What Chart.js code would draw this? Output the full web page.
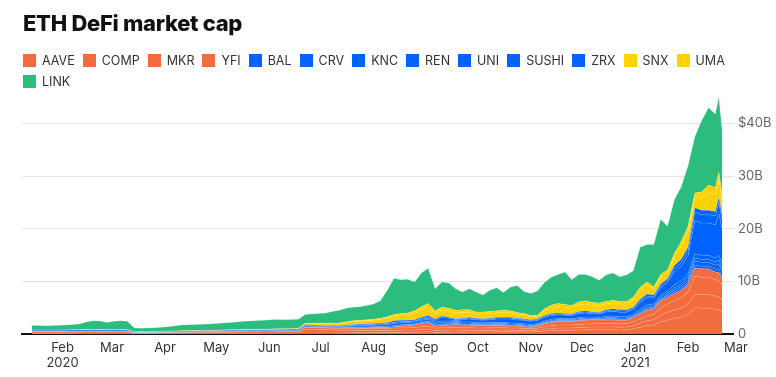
<!DOCTYPE html>
<html>
<head>
<meta charset="utf-8">
<script src="https://cdn.jsdelivr.net/npm/chart.js@4"></script>
<style>
  html, body { margin: 0; padding: 0; background: #fff; }
  body { width: 776px; height: 377px; position: relative; overflow: hidden; font-family: Inter, "Noto Sans", sans-serif; }
  #title { position: absolute; left: 23px; top: 10px; font-size: 22px; font-weight: 800; color: #111; letter-spacing: -0.3px; }
  #legend { position: absolute; left: 23px; top: 54px; width: 745px; display: flex; flex-wrap: wrap; row-gap: 8px; font-size: 12.5px; color: #333; }
  .item { display: flex; align-items: center; height: 13px; margin-right: 8px; }
  .box { width: 13px; height: 13px; margin-right: 6px; }
  #wrap { position: absolute; left: 0; top: 0; width: 776px; height: 377px; }
</style>
</head>
<body>
<div id="wrap"><canvas id="chart" width="776" height="377"></canvas></div>
<div id="title">ETH DeFi market cap</div>
<div id="legend"></div>
<script>
// one point every 4 days, Jan 14 2020 .. Feb 17 2021, then Feb 19 and Feb 21 2021
const dates = [];
for (let t = Date.UTC(2020, 0, 14); t <= Date.UTC(2021, 1, 17); t += 4 * 864e5) dates.push(t);
dates.push(Date.UTC(2021, 1, 19), Date.UTC(2021, 1, 21));

// market caps, $ billions
const aave = [
  .02,.02,.02,.02,.02,.02,.02,.03,.03,.03,
  .03,.03,.03,.03,.03,.02,.02,.02,.02,.03,
  .03,.03,.03,.04,.04,.04,.05,.05,.05,.06,
  .06,.07,.07,.07,.08,.08,.09,.09,.1,.1,
  .12,.13,.14,.15,.16,.18,.2,.22,.23,.24,
  .26,.28,.28,.3,.3,.32,.33,.4,.42,.3,
  .32,.34,.36,.35,.36,.36,.38,.4,.42,.44,
  .42,.42,.4,.38,.42,.55,.62,.7,.72,.73,
  .78,.8,.82,.82,.82,.8,.78,.8,1.0,1.3,
  1.6,1.7,2.3,2.6,3.0,3.2,3.7,5.0,4.9,4.9,
  4.7,4.6,4.2];
const comp = [
  0,0,0,0,0,0,0,0,0,0,
  0,0,0,0,0,0,0,0,0,0,
  0,0,0,0,0,0,0,0,0,0,
  0,0,0,0,0,0,0,0,0,0,
  .8,.75,.7,.64,.58,.55,.52,.5,.45,.42,
  .42,.42,.4,.42,.42,.44,.45,.5,.52,.38,
  .4,.4,.42,.38,.37,.34,.33,.32,.31,.3,
  .28,.28,.26,.24,.27,.35,.4,.44,.43,.42,
  .44,.47,.5,.5,.52,.54,.52,.52,.6,.75,
  .9,1.0,1.3,1.5,1.6,1.7,2.0,2.6,2.6,2.6,
  2.5,2.5,2.2];
const mkr = [
  .34,.34,.34,.34,.34,.35,.36,.36,.37,.37,
  .36,.35,.35,.35,.33,.18,.18,.19,.2,.21,
  .22,.24,.25,.25,.26,.27,.27,.28,.29,.29,
  .3,.3,.31,.31,.31,.32,.32,.32,.32,.34,
  .38,.37,.36,.36,.36,.37,.38,.38,.38,.38,
  .39,.4,.4,.42,.43,.44,.46,.5,.56,.42,
  .45,.46,.47,.45,.46,.45,.45,.45,.45,.44,
  .42,.42,.4,.38,.42,.5,.55,.58,.58,.58,
  .6,.62,.65,.66,.66,.66,.64,.63,.75,.85,
  .95,1.0,1.4,1.6,1.8,2.0,2.3,3.4,3.3,3.3,
  3.1,3.1,2.8];
const yfi = [
  0,0,0,0,0,0,0,0,0,0,
  0,0,0,0,0,0,0,0,0,0,
  0,0,0,0,0,0,0,0,0,0,
  0,0,0,0,0,0,0,0,0,0,
  0,0,0,0,0,0,.05,.1,.14,.16,
  .18,.2,.22,.26,.3,.4,.46,.6,.7,.35,
  .43,.5,.55,.52,.51,.45,.44,.43,.42,.42,
  .38,.38,.34,.3,.39,.55,.63,.68,.67,.67,
  .68,.71,.73,.72,.7,.7,.66,.65,.75,.9,
  1.05,1.1,1.3,1.3,1.3,1.4,1.5,1.6,1.6,1.6,
  1.5,1.5,1.3];
const bal = [
  0,0,0,0,0,0,0,0,0,0,
  0,0,0,0,0,0,0,0,0,0,
  0,0,0,0,0,0,0,0,0,0,
  0,0,0,0,0,0,0,0,0,0,
  .03,.06,.07,.07,.08,.08,.09,.1,.12,.13,
  .13,.14,.16,.2,.18,.15,.15,.17,.18,.16,
  .18,.16,.13,.13,.13,.12,.11,.11,.12,.12,
  .12,.11,.11,.1,.1,.11,.12,.11,.11,.1,
  .13,.13,.11,.1,.13,.15,.14,.14,.14,.2,
  .22,.19,.23,.25,.35,.38,.42,.5,.5,.5,
  .52,.6,.52];
const crv = [
  0,0,0,0,0,0,0,0,0,0,
  0,0,0,0,0,0,0,0,0,0,
  0,0,0,0,0,0,0,0,0,0,
  0,0,0,0,0,0,0,0,0,0,
  0,0,0,0,0,0,0,0,0,0,
  0,0,0,0,.12,.1,.1,.1,.1,.09,
  .1,.09,.08,.08,.08,.07,.07,.07,.08,.08,
  .08,.07,.07,.06,.06,.07,.08,.07,.07,.06,
  .08,.08,.07,.06,.08,.09,.09,.09,.1,.15,
  .17,.14,.18,.2,.3,.33,.4,.75,.72,.72,
  .75,.95,.8];
const knc = [
  .08,.08,.08,.08,.08,.08,.09,.09,.1,.1,
  .1,.1,.1,.1,.1,.06,.05,.06,.06,.06,
  .07,.07,.08,.08,.09,.1,.1,.11,.12,.13,
  .13,.14,.14,.15,.16,.17,.18,.18,.19,.2,
  .2,.16,.16,.16,.18,.18,.2,.22,.26,.28,
  .28,.3,.33,.4,.38,.33,.32,.35,.34,.3,
  .32,.28,.2,.2,.2,.19,.17,.18,.2,.2,
  .21,.18,.18,.16,.16,.17,.18,.17,.16,.15,
  .19,.19,.16,.15,.2,.22,.21,.21,.2,.27,
  .3,.25,.3,.32,.45,.48,.52,.6,.58,.58,
  .6,.75,.62];
const ren = [
  .04,.04,.04,.04,.04,.04,.04,.04,.04,.05,
  .05,.05,.05,.05,.05,.03,.03,.03,.03,.03,
  .03,.03,.03,.04,.04,.04,.04,.04,.05,.05,
  .05,.05,.06,.06,.06,.07,.07,.08,.08,.08,
  .07,.07,.07,.08,.09,.09,.1,.11,.13,.14,
  .14,.15,.17,.2,.2,.18,.18,.22,.24,.22,
  .25,.22,.18,.18,.19,.18,.17,.18,.2,.2,
  .2,.18,.18,.17,.17,.19,.21,.2,.19,.18,
  .23,.23,.19,.18,.24,.27,.25,.25,.25,.35,
  .38,.32,.38,.4,.55,.6,.65,.8,.78,.78,
  .8,1.0,.85];
const uni = [
  0,0,0,0,0,0,0,0,0,0,
  0,0,0,0,0,0,0,0,0,0,
  0,0,0,0,0,0,0,0,0,0,
  0,0,0,0,0,0,0,0,0,0,
  0,0,0,0,0,0,0,0,0,0,
  0,0,0,0,0,0,0,0,0,0,
  0,0,.15,.4,.55,.53,.5,.56,.65,.66,
  .72,.64,.65,.62,.62,.68,.74,.7,.64,.6,
  .77,.77,.64,.6,.82,.9,.86,.86,.86,1.2,
  1.33,1.1,1.4,1.55,2.5,2.8,3.4,6.3,6.1,6.1,
  6.3,7.9,6.6];
const sushi = [
  0,0,0,0,0,0,0,0,0,0,
  0,0,0,0,0,0,0,0,0,0,
  0,0,0,0,0,0,0,0,0,0,
  0,0,0,0,0,0,0,0,0,0,
  0,0,0,0,0,0,0,0,0,0,
  0,0,0,0,0,0,0,.1,.18,.36,
  .7,.53,.2,.15,.18,.15,.13,.14,.18,.17,
  .2,.16,.15,.14,.14,.16,.18,.17,.16,.15,
  .2,.2,.16,.15,.21,.23,.22,.22,.22,.3,
  .33,.28,.35,.38,.6,.7,.9,1.6,1.6,1.6,
  1.68,2.05,1.72];
const zrx = [
  .22,.22,.22,.22,.22,.23,.23,.24,.24,.24,
  .24,.23,.23,.23,.22,.13,.12,.12,.13,.14,
  .14,.15,.15,.15,.15,.15,.16,.16,.16,.16,
  .17,.17,.17,.17,.18,.18,.19,.19,.19,.2,
  .2,.16,.15,.14,.15,.15,.16,.17,.19,.2,
  .2,.21,.24,.3,.27,.24,.25,.26,.26,.22,
  .25,.22,.16,.16,.17,.16,.15,.16,.17,.17,
  .17,.16,.16,.15,.15,.17,.19,.18,.17,.16,
  .2,.2,.17,.16,.22,.24,.23,.23,.23,.33,
  .37,.32,.36,.4,.55,.61,.71,.85,.82,.82,
  .85,1.05,.89];
const snx = [
  .06,.06,.06,.06,.06,.06,.06,.06,.07,.07,
  .07,.07,.07,.07,.07,.04,.04,.04,.05,.05,
  .05,.06,.06,.07,.07,.07,.07,.08,.08,.08,
  .08,.09,.09,.1,.1,.1,.1,.11,.11,.12,
  .21,.3,.34,.38,.42,.42,.5,.58,.57,.6,
  .63,.7,.85,.9,.95,1.0,1.2,1.4,1.6,1.1,
  1.15,1.15,1.1,1.1,.95,.8,.88,.88,.8,.88,
  .8,.74,.68,.55,.48,.9,1.1,1.25,1.2,1.1,
  1.25,1.3,1.25,1.25,1.1,1.1,1.1,1.1,1.35,1.7,
  1.7,1.15,1.3,1.2,1.7,2.5,2.9,2.0,2.5,3.4,
  3.2,3.4,2.9];
const uma = [
  0,0,0,0,0,0,0,0,0,0,
  0,0,0,0,0,0,0,0,0,0,
  0,0,0,0,0,.01,.01,.01,.01,.02,
  .02,.02,.02,.02,.02,.03,.03,.03,.03,.03,
  .04,.05,.06,.07,.08,.08,.1,.12,.13,.15,
  .17,.2,.25,.3,.35,.4,.5,.6,.7,.5,
  .55,.55,.5,.5,.45,.4,.42,.42,.4,.42,
  .4,.36,.32,.25,.22,.4,.5,.55,.5,.5,
  .55,.6,.55,.55,.5,.5,.5,.5,.55,.6,
  .6,.45,.5,.5,.6,.9,1.1,.8,1.0,1.4,
  1.3,1.4,1.1];
const link = [
  .84,.84,.79,.84,.89,.92,1.0,1.08,1.45,1.64,
  1.6,1.37,1.57,1.67,1.6,.69,.66,.69,.71,.78,
  .86,.97,1.1,1.12,1.15,1.17,1.2,1.27,1.34,1.41,
  1.49,1.56,1.59,1.67,1.69,1.75,1.77,1.7,1.73,1.73,
  1.65,1.75,1.85,1.95,2.2,2.4,2.6,2.6,2.6,2.7,
  2.9,3.3,5.0,6.9,6.4,6.4,5.5,6.4,6.7,4.2,
  4.8,4.8,4.1,3.4,4.0,3.8,3.2,4.0,4.4,3.4,
  4.5,5.1,4.2,4.2,4.6,5.0,5.3,5.5,6.2,4.9,
  5.2,5.0,4.9,4.3,5.0,5.2,4.7,5.0,5.0,7.6,
  7.1,8.0,10.5,8.3,10.2,10.4,11.5,10.7,13.6,14.7,
  14.0,14.2,12.0];

const yTicks = [0, 10, 20, 30, 40];
const monthNames = ["Jan","Feb","Mar","Apr","May","Jun","Jul","Aug","Sep","Oct","Nov","Dec"];

const ORANGE = "#f36c3f", BLUE = "#0062ff", YELLOW = "#ffd100", GREEN = "#2cbd7e";
const series = [
  ["AAVE", aave, ORANGE], ["COMP", comp, ORANGE], ["MKR", mkr, ORANGE], ["YFI", yfi, ORANGE],
  ["BAL", bal, BLUE], ["CRV", crv, BLUE], ["KNC", knc, BLUE], ["REN", ren, BLUE],
  ["UNI", uni, BLUE], ["SUSHI", sushi, BLUE], ["ZRX", zrx, BLUE],
  ["SNX", snx, YELLOW], ["UMA", uma, YELLOW],
  ["LINK", link, GREEN]
];

// legend
const legend = document.getElementById("legend");
series.forEach(([name, , color]) => {
  const it = document.createElement("div");
  it.className = "item";
  it.innerHTML = `<span class="box" style="background:${color}"></span><span>${name}</span>`;
  legend.appendChild(it);
});

const DAY = 864e5;
const feb1 = Date.UTC(2020, 1, 1);
const monthTicks = [];
for (let m = 1; m <= 14; m++) monthTicks.push(Date.UTC(2020, m, 1));

const ctx = document.getElementById("chart").getContext("2d");
new Chart(ctx, {
  type: "line",
  data: {
    datasets: series.map(([name, vals, color], i) => ({
      label: name,
      data: vals.map((v, j) => ({ x: dates[j], y: v })),
      backgroundColor: color,
      borderColor: "rgba(255,255,255,0.28)",
      borderWidth: 0.6,
      fill: i === 0 ? "origin" : "-1",
      pointRadius: 0,
      tension: 0
    }))
  },
  options: {
    responsive: false,
    animation: false,
    layout: { padding: { left: 22, top: 92, right: 0, bottom: 0 } },
    plugins: { legend: { display: false }, tooltip: { enabled: false } },
    scales: {
      x: {
        type: "linear",
        min: feb1 - 23.7 * DAY,
        max: feb1 + 392.3 * DAY,
        border: { color: "#111", width: 2 },
        grid: { display: false, drawTicks: false },
        afterBuildTicks: (s) => { s.ticks = monthTicks.map(v => ({ value: v })); },
        afterFit: (s) => { s.height = 43; },
        ticks: {
          autoSkip: false, maxRotation: 0, padding: 6,
          color: "#333",
          font: { family: "Inter", size: 13, lineHeight: 1.2 },
          callback: (v) => {
            const d = new Date(v);
            const m = monthNames[d.getUTCMonth()];
            if (d.getUTCMonth() === 0 || (d.getUTCMonth() === 1 && d.getUTCFullYear() === 2020)) {
              return [m, String(d.getUTCFullYear())];
            }
            return m;
          }
        }
      },
      y: {
        position: "right",
        stacked: true,
        min: 0,
        max: 46,
        border: { display: false },
        grid: { color: (c) => c.tick && c.tick.value === 0 ? "rgba(0,0,0,0)" : "#e4e4e4", drawTicks: false },
        afterBuildTicks: (s) => { s.ticks = yTicks.map(v => ({ value: v })); },
        afterFit: (s) => { s.width = 43; },
        ticks: {
          padding: 5,
          color: "#666",
          font: { family: "Inter", size: 13 },
          callback: (v) => v === 0 ? "0" : (v === 40 ? "$40B" : v + "B")
        }
      }
    }
  }
});
</script>
</body>
</html>
